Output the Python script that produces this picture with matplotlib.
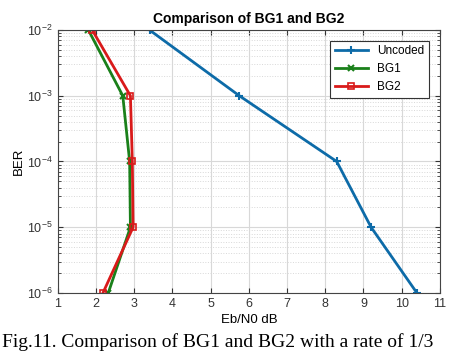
import matplotlib
matplotlib.use("Agg")
import matplotlib.pyplot as plt
from matplotlib.ticker import LogLocator, NullFormatter

plt.rcParams['font.family'] = ['Liberation Sans', 'DejaVu Sans']

ber = [1e-2, 1e-3, 1e-4, 1e-5, 1e-6]
uncoded_x = [3.4, 5.75, 8.3, 9.2, 10.4]
bg1_x = [1.8, 2.7, 2.88, 2.9, 2.32]
bg2_x = [1.9, 2.9, 2.95, 2.97, 2.18]
labels = ["Uncoded", "BG1", "BG2"]
xticks = list(range(1, 12))

fig = plt.figure(figsize=(4.74, 3.53), dpi=100)
ax = fig.add_axes([0.122, 0.17, 0.806, 0.745])

ax.plot(uncoded_x, ber, '-+', color=(0.05, 0.42, 0.66), lw=2, ms=6, mew=1.5, label=labels[0])
ax.plot(bg1_x, ber, '-x', color=(0.1, 0.5, 0.1), lw=2, ms=5, mew=1.5, label=labels[1])
ax.plot(bg2_x, ber, '-s', color=(0.85, 0.1, 0.1), lw=2, ms=5, mew=1.2, mfc='none', label=labels[2])

ax.set_yscale('log')
ax.set_xlim(1, 11)
ax.set_ylim(1e-6, 1e-2)
ax.set_xticks(xticks)
ax.yaxis.set_major_locator(LogLocator(base=10, numticks=10))
ax.yaxis.set_minor_locator(LogLocator(base=10, subs=range(2, 10), numticks=20))
ax.yaxis.set_minor_formatter(NullFormatter())
ax.tick_params(direction='in', which='both', top=True, right=True, labelsize=9, colors='#333333')
ax.grid(True, which='major', color='#d8d8d8', lw=0.8)
ax.grid(True, which='minor', axis='y', color='#d8d8d8', lw=0.7, ls=':')
ax.set_axisbelow(True)
for s in ax.spines.values():
    s.set_color('#444444')

ax.set_xlabel("Eb/N0 dB", fontsize=9.5, labelpad=3)
ax.set_ylabel("BER", fontsize=9.5, labelpad=2)
ax.set_title("Comparison of BG1 and BG2", fontsize=10, fontweight='bold', pad=5)

leg = ax.legend(loc='upper right', fontsize=8.5, fancybox=False, edgecolor='#333333',
                handlelength=2.8, borderaxespad=0.9, framealpha=1)
leg.get_frame().set_linewidth(0.8)

fig.text(0.005, 0.03, "Fig.11. Comparison of BG1 and BG2 with a rate of 1/3",
         ha='left', va='center', fontsize=14, family=['Liberation Serif'])

fig.savefig("out.png", dpi=100)
